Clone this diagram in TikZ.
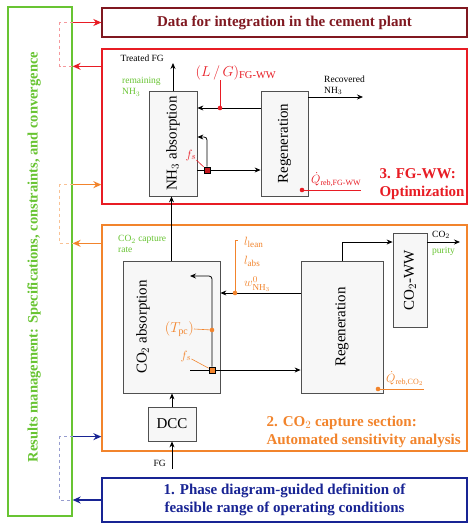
\documentclass[tikz,border=0pt]{standalone}
\usepackage{amsmath}
\usepackage{fontspec}
\setmainfont{Liberation Serif}
\usetikzlibrary{arrows.meta}
\definecolor{resgreen}{RGB}{104,196,50}
\definecolor{plantred}{RGB}{128,24,32}
\definecolor{wwred}{RGB}{232,28,36}
\definecolor{caporange}{RGB}{242,132,44}
\definecolor{phasenavy}{RGB}{24,36,148}
\definecolor{unitgray}{RGB}{80,80,80}
\definecolor{unitfill}{RGB}{247,247,247}
\begin{document}
\begin{tikzpicture}[
x=1pt, y=-1pt,
frame/.style={draw, line width=1.3pt, minimum width=365pt, inner sep=0pt},
unit/.style={draw=unitgray, fill=unitfill, line width=0.8pt, inner sep=0pt},
unittext/.style={font=\fontsize{15}{17}\selectfont, inner sep=0pt},
arrow/.style={-{Stealth[length=6pt,width=5pt]}, line width=0.8pt},
feed/.style={-{Stealth[length=8pt,width=7pt]}, line width=1.3pt},
loopback/.style={dashed, line width=0.7pt},
heading/.style={font=\fontsize{15}{18}\selectfont\bfseries, align=center},
small/.style={font=\fontsize{9.5}{11}\selectfont, align=left, inner sep=0pt},
param/.style={font=\fontsize{13}{15}\selectfont, inner sep=0pt},
splitter/.style={draw=black, line width=0.6pt, minimum size=6pt, inner sep=0pt},
]
\useasboundingbox[fill=white] (0,0) rectangle (474,530);

% frames of the workflow
\node[frame, draw=resgreen, minimum width=64pt, minimum height=509pt] (results) at (40,261.5) {};
\node[heading, font=\fontsize{14.5}{17}\selectfont\bfseries, text=resgreen, rotate=90] (resultstxt) at (34,257) {Results management: Specifications, constraints, and convergence};
\node[frame, heading, draw=plantred, text=plantred, minimum height=29pt] (plant) at (284.5,22.5) {Data for integration in the cement plant};
\node[frame, draw=wwred, minimum height=155pt] (fgww) at (284.5,126.5) {};
\node[frame, draw=caporange, minimum height=226pt] (capture) at (284.5,338) {};
\node[frame, heading, draw=phasenavy, text=phasenavy, minimum height=44pt] (phase) at (284.5,500) {1. Phase diagram-guided definition of\\feasible range of operating conditions};

% links to results management
\coordinate (wwout) at ([yshift=-18pt]fgww.north west);
\coordinate (wwback) at (results.east |- wwout);
\coordinate (wwin) at ([yshift=20pt]fgww.south west);
\coordinate (capout) at ([yshift=-19pt]capture.north west);
\coordinate (capback) at (results.east |- capout);
\coordinate (capin) at ([yshift=15pt]capture.south west);
\coordinate (phaseback) at (results.east |- phase.west);
\draw[feed, wwred] (results.east |- plant.west) -- (plant.west);
\draw[feed, wwred] (wwout) -- (wwback);
\draw[loopback, wwred!45] (results.east |- plant.west) -- ++(-13,0) |- (wwback);
\draw[feed, caporange] (results.east |- wwin) -- (wwin);
\draw[feed, caporange] (capout) -- (capback);
\draw[loopback, caporange!50] (results.east |- wwin) -- ++(-13,0) |- (capback);
\draw[feed, phasenavy] (results.east |- capin) -- (capin);
\draw[feed, phasenavy] (phase.west) -- (phaseback);
\draw[loopback, phasenavy!45] (results.east |- capin) -- ++(-13,0) |- (phaseback);

% 3. FG-WW
\node[unit, minimum width=48pt, minimum height=105pt, label={[unittext, rotate=90]center:NH$_3$ absorption}] (nh3abs) at (173,143.5) {};
\node[unit, minimum width=47pt, minimum height=105pt, label={[unittext, rotate=90]center:Regeneration}] (wwreg) at (284.5,143.5) {};
\coordinate (treated) at (173,63);
\draw[arrow] (nh3abs.north) -- (treated);
\node[small, anchor=east] (treatedtxt) at (164,58) {Treated FG};
\node[small, text=resgreen, anchor=west] (remaintxt) at (122,87) {remaining\\NH$_3$};
\coordinate (lgdot) at (220,108);
\draw[arrow] (wwreg.west |- lgdot) -- (nh3abs.east |- lgdot);
\node[param, font=\fontsize{15}{17}\selectfont, text=wwred] (lgtxt) at (236,73) {$(L\,/\,G)_{\text{FG-WW}}$};
\draw[wwred, line width=0.8pt] (lgdot |- lgtxt.south) -- (lgdot);
\fill[wwred] (lgdot) circle (2.3);
\coordinate (recov) at (363,97);
\draw[arrow] (wwreg.east |- recov) -- (recov);
\node[small, anchor=west] (recovtxt) at (324,85) {Recovered\\NH$_3$};
\node[splitter, fill=wwred!85!black] (wwsplit) at (207,170) {};
\coordinate (wwrecyc) at (207,137);
\draw[line width=0.8pt] (nh3abs.east |- wwsplit) -- (wwsplit);
\draw[arrow] (wwsplit) -- (wwreg.west |- wwsplit);
\draw[arrow, rounded corners=3pt] (wwsplit) -- (wwrecyc) -- (nh3abs.east |- wwrecyc);
\node[param, text=wwred] (wwfs) at (191,155) {$f_s$};
\draw[wwred, line width=0.6pt] (wwfs) -- (wwsplit);
\coordinate (wwqdot) at (302,190);
\node[param, font=\fontsize{12}{14}\selectfont, text=wwred, anchor=south west] (wwqtxt) at (311,187) {$\dot{Q}_{\text{reb,FG-WW}}$};
\draw[wwred, line width=0.8pt] (wwqdot) -- (wwqdot -| wwqtxt.east);
\fill[wwred] (wwqdot) circle (2.3);
\node[heading, text=wwred, align=left, anchor=west] (wwhead) at (376,184.5) {3. FG-WW:\\Optimization};

% 2. CO2 capture section
\node[unit, minimum width=97pt, minimum height=132pt] (co2abs) at (171.5,327) {};
\node[unittext, rotate=90] (co2abstxt) at (143,327) {CO$_2$ absorption};
\node[unit, minimum width=82pt, minimum height=132pt, label={[unittext, rotate=90]center:Regeneration}] (co2reg) at (342,327) {};
\node[unit, minimum width=34pt, minimum height=94pt, label={[unittext, rotate=90]center:CO$_2$-WW}] (co2ww) at (410,280) {};
\node[unit, unittext, minimum width=48pt, minimum height=34pt] (dcc) at (172,424) {DCC};
\draw[arrow] (co2abs.north) -- (co2abs.north |- nh3abs.south);
\draw[arrow] (dcc.north) -- (dcc.north |- co2abs.south);
\coordinate (fgin) at (172,469);
\draw[arrow] (fgin) -- (dcc.south);
\node[small, anchor=east] (fgtxt) at (166,463) {FG};
\node[small, text=resgreen, anchor=west] (ratetxt) at (118,244) {CO$_2$ capture\\rate};
\coordinate (wwfeed) at (342,242);
\draw[arrow] (co2reg.north) -- (wwfeed) -- (co2ww.west |- wwfeed);
\coordinate (co2out) at (460,242);
\draw[arrow] (co2ww.east |- co2out) -- (co2out);
\node[small, anchor=west] (co2txt) at (432,235) {CO$_2$};
\node[small, text=resgreen, anchor=west] (puritytxt) at (432,251) {purity};
\coordinate (leandot) at (235,293);
\coordinate (leantop) at (235,240);
\draw[arrow] (co2reg.west |- leandot) -- (co2abs.east |- leandot);
\draw[caporange, line width=0.6pt] (leandot) -- (leantop) -- ++(3,0);
\fill[caporange] (leandot) circle (2.3);
\node[param, text=caporange, anchor=west] (leantxt) at (244,242) {$l_{\text{lean}}$};
\node[param, text=caporange, anchor=west] (abstxt) at (244,261) {$l_{\text{abs}}$};
\node[param, text=caporange, anchor=west] (nh3txt) at (244,284) {$w^0_{\text{NH}_3}$};
\node[splitter, fill=caporange] (capsplit) at (212,370) {};
\coordinate (splitin) at (190,370);
\coordinate (caprecyc) at (212,276);
\coordinate (recycend) at (190,276);
\draw[line width=0.8pt] (splitin) -- (capsplit);
\draw[arrow] (capsplit) -- (co2reg.west |- capsplit);
\draw[arrow, rounded corners=3pt] (capsplit) -- (caprecyc) -- (recycend);
\coordinate (tpcdot) at (212,330);
\node[param, font=\fontsize{14}{16}\selectfont, text=caporange, anchor=east] (tpctxt) at (194,329) {$(T_{\text{pc}})$};
\draw[caporange, line width=0.6pt] (tpctxt.east) -- (tpcdot);
\fill[caporange] (tpcdot) circle (2.3);
\node[param, text=caporange] (capfs) at (186,356) {$f_s$};
\draw[caporange, line width=0.6pt] (capfs) -- (capsplit);
\coordinate (capqdot) at (378,389);
\node[param, font=\fontsize{12}{14}\selectfont, text=caporange, anchor=south west] (capqtxt) at (386,386) {$\dot{Q}_{\text{reb,CO}_2}$};
\draw[caporange, line width=0.8pt] (capqdot) -- (capqdot -| capqtxt.east);
\fill[caporange] (capqdot) circle (2.3);
\node[heading, text=caporange, align=left, anchor=west] (caphead) at (263,432) {2. CO$_2$ capture section:\\Automated sensitivity analysis};
\end{tikzpicture}
\end{document}
